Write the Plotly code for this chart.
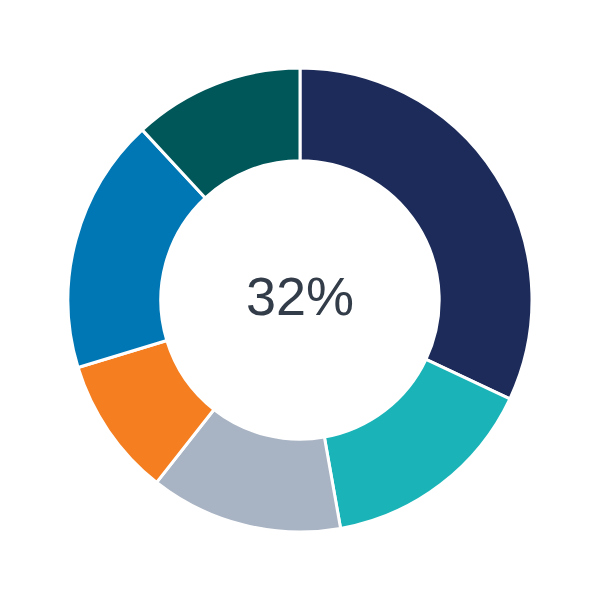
import plotly.graph_objects as go

labels = ["Navy", "Teal", "Gray", "Orange", "Blue", "Dark Green"]
values = [32, 15.2, 13.4, 9.7, 17.8, 11.9]
colors = ["#1c2b5a", "#1ab4b8", "#a8b3c3", "#f47e20", "#0077b5", "#00575a"]
center_text = "32%"

fig = go.Figure(go.Pie(
    labels=labels, values=values, hole=0.6, sort=False, direction="clockwise",
    rotation=0, textinfo="none", hoverinfo="label+percent",
    marker=dict(colors=colors, line=dict(color="white", width=3)),
    showlegend=False,
))
fig.add_annotation(text=center_text, x=0.5, y=0.5, xref="paper", yref="paper", yshift=4,
                   showarrow=False, font=dict(family="Liberation Sans, Arial", size=54, color="#333c49"))
fig.update_layout(width=600, height=600, margin=dict(l=60, r=76, t=60, b=76),
                  paper_bgcolor="white", plot_bgcolor="white")
fig.write_html("out.html")
